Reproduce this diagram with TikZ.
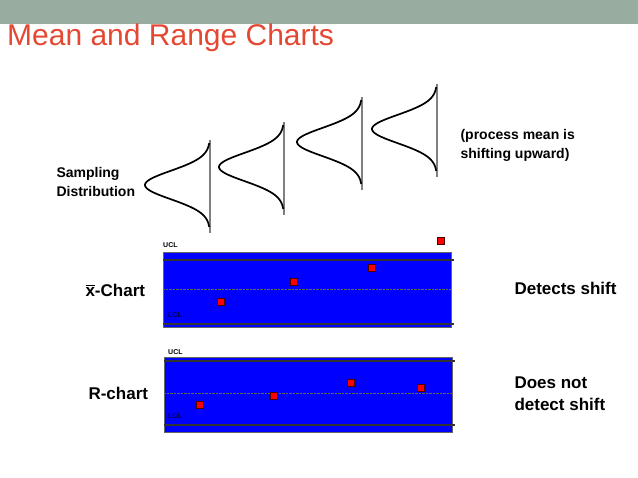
\documentclass[tikz,border=0pt]{standalone}
\usepackage{fontspec}
\setmainfont{Liberation Sans}
\begin{document}
\begin{tikzpicture}[x=1pt,y=-1pt,
  lbl/.style={font=\bfseries\fontsize{14}{19}\selectfont,anchor=west,align=left},
  big/.style={font=\bfseries\fontsize{17}{22}\selectfont,anchor=west,align=left},
  small/.style={font=\bfseries\fontsize{7}{8}\selectfont,anchor=west,inner sep=0},
  pt/.style={draw=black!70!red,fill=red,minimum size=7pt,inner sep=0,line width=0.5pt},
  chart/.style={fill=blue,draw=black!60,line width=0.8pt},
  lim/.style={line width=1.8pt,black!80},
  mid/.style={densely dotted,black!60,line width=0.4pt}]
\useasboundingbox (0,0) rectangle (638,478);
\fill[fill={rgb,255:red,152;green,172;blue,160}] (0,0) rectangle (638,24);
\node[anchor=west,inner sep=0,text={rgb,255:red,228;green,72;blue,50},font=\fontsize{30}{33}\selectfont] (title) at (7,38) {Mean and Range Charts};
% distributions
\foreach \L/\M/\n in {210/185/a,284/167/b,362/142/c,437/129/d}{
  \draw[gray,line width=1.3pt] (\L,\M-45) -- (\L,\M+48);
  \draw[line width=1.7pt,domain=-42:42,samples=60,smooth] plot ({\L-65*exp(-(\x/20)^2)},{\M+\x});
}
\node[lbl] (samp) at (53,182) {Sampling\\Distribution};
\node[lbl] (proc) at (457,145) {(process mean is\\shifting upward)};
% chart 1
\node[chart,minimum width=288pt,minimum height=75pt,inner sep=0,anchor=north west] (c1) at (163,252) {};
\draw[lim] (163,260) -- (454,260);
\draw[lim] (163,324) -- (454,324);
\draw[mid] (163,289) -- (451,289);
\node[small] (u1) at (163,245) {UCL};
\node[small,text=black!70!blue] (l1) at (168,315) {LCL};
\foreach \x/\y in {221/302,294/282,372/268,441/241}{\node[pt] at (\x,\y) {};}
% chart 2
\node[chart,minimum width=288pt,minimum height=75pt,inner sep=0,anchor=north west] (c2) at (164,357) {};
\draw[lim] (164,361) -- (455,361);
\draw[lim] (164,425) -- (455,425);
\draw[mid] (164,393) -- (452,393);
\node[small] (u2) at (168,352) {UCL};
\node[small,text=black!70!blue] (l2) at (168,416) {LCL};
\foreach \x/\y in {200/405,274/396,351/383,421/388}{\node[pt] at (\x,\y) {};}
% labels
\node[big] (xc) at (82,290) {$\overline{\mbox{x}}$-Chart};
\node[big] (rc) at (85,393) {R-chart};
\node[big] (det) at (511,288) {Detects shift};
\node[big] (dn) at (511,394) {Does not\\detect shift};
\end{tikzpicture}
\end{document}
